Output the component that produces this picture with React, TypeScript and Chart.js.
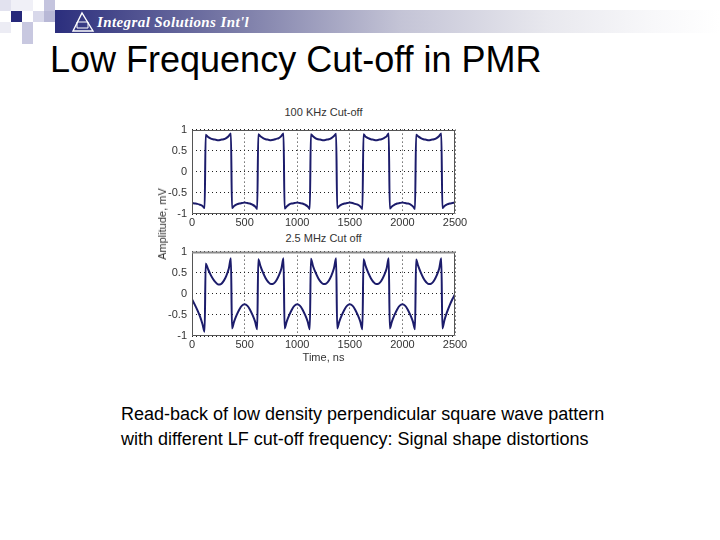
import React, { useEffect, useRef } from "react";
import { Chart, registerables } from "chart.js";
Chart.register(...registerables);

// ---- data ----
const timeNs = [
  0, 25, 50, 75, 100, 120,
  130, 150, 175, 200, 225, 250, 275, 300, 325, 350, 370,
  380, 400, 425, 450, 475, 500, 525, 550, 575, 600, 620,
  630, 650, 675, 700, 725, 750, 775, 800, 825, 850, 870,
  880, 900, 925, 950, 975, 1000, 1025, 1050, 1075, 1100, 1120,
  1130, 1150, 1175, 1200, 1225, 1250, 1275, 1300, 1325, 1350, 1370,
  1380, 1400, 1425, 1450, 1475, 1500, 1525, 1550, 1575, 1600, 1620,
  1630, 1650, 1675, 1700, 1725, 1750, 1775, 1800, 1825, 1850, 1870,
  1880, 1900, 1925, 1950, 1975, 2000, 2025, 2050, 2075, 2100, 2120,
  2130, 2150, 2175, 2200, 2225, 2250, 2275, 2300, 2325, 2350, 2370,
  2380, 2400, 2425, 2450, 2475, 2500,
];

const cutoff100kHz = [
  -0.74, -0.75, -0.76, -0.78, -0.81, -0.86,
  0.88, 0.83, 0.79, 0.77, 0.76, 0.75, 0.76, 0.77, 0.8, 0.85, 0.91,
  -0.86, -0.81, -0.77, -0.75, -0.74, -0.73, -0.74, -0.75, -0.78, -0.82, -0.88,
  0.89, 0.84, 0.8, 0.77, 0.76, 0.75, 0.76, 0.78, 0.8, 0.85, 0.91,
  -0.87, -0.82, -0.77, -0.75, -0.74, -0.73, -0.74, -0.75, -0.78, -0.82, -0.88,
  0.89, 0.84, 0.79, 0.77, 0.76, 0.75, 0.76, 0.77, 0.8, 0.85, 0.9,
  -0.86, -0.81, -0.77, -0.75, -0.74, -0.73, -0.74, -0.76, -0.78, -0.82, -0.88,
  0.89, 0.83, 0.8, 0.77, 0.76, 0.75, 0.76, 0.77, 0.8, 0.84, 0.91,
  -0.87, -0.82, -0.78, -0.75, -0.74, -0.73, -0.74, -0.75, -0.77, -0.82, -0.88,
  0.88, 0.84, 0.8, 0.77, 0.76, 0.75, 0.76, 0.77, 0.8, 0.85, 0.91,
  -0.86, -0.81, -0.77, -0.75, -0.74, -0.73,
];

const cutoff2_5MHz = [
  -0.13, -0.25, -0.38, -0.53, -0.72, -0.9,
  0.72, 0.6, 0.46, 0.35, 0.27, 0.22, 0.23, 0.3, 0.42, 0.6, 0.84,
  -0.82, -0.66, -0.5, -0.37, -0.28, -0.25, -0.28, -0.37, -0.5, -0.66, -0.84,
  0.82, 0.66, 0.5, 0.37, 0.28, 0.23, 0.24, 0.31, 0.43, 0.6, 0.84,
  -0.82, -0.66, -0.5, -0.37, -0.28, -0.25, -0.28, -0.37, -0.5, -0.66, -0.84,
  0.83, 0.66, 0.5, 0.37, 0.28, 0.23, 0.24, 0.31, 0.43, 0.61, 0.84,
  -0.82, -0.66, -0.5, -0.37, -0.28, -0.25, -0.28, -0.37, -0.5, -0.66, -0.84,
  0.82, 0.66, 0.5, 0.37, 0.28, 0.23, 0.24, 0.31, 0.43, 0.6, 0.84,
  -0.82, -0.66, -0.5, -0.37, -0.28, -0.25, -0.28, -0.37, -0.5, -0.66, -0.84,
  0.81, 0.66, 0.5, 0.37, 0.28, 0.23, 0.24, 0.31, 0.43, 0.6, 0.84,
  -0.82, -0.62, -0.43, -0.27, -0.13, -0.01,
];

const xTicks = [0, 500, 1000, 1500, 2000, 2500];
const xTickLabels = ["0", "500", "1000", "1500", "2000", "2500"];
const yTicks = [-1, -0.5, 0, 0.5, 1];
const yTickLabels = ["-1", "-0.5", "0", "0.5", "1"];

const topTitle = "100 KHz Cut-off";
const bottomTitle = "2.5 MHz Cut off";
const xTitle = "Time, ns";
const yTitle = "Amplitude, mV";
const slideTitle = "Low Frequency Cut-off in PMR";
const captionLines = [
  "Read-back of low density perpendicular square wave pattern",
  "with different LF cut-off frequency: Signal shape distortions",
];
const bannerText = "Integral Solutions Int'l";

const FONT = "'Liberation Sans', Arial, Helvetica, sans-serif";
const TXT = "#333";

const boxPlugin = {
  id: "matlabBox",
  afterDraw(chart: any, _args: any, opts: any) {
    const { ctx, chartArea: a } = chart;
    const l = Math.round(a.left) + 0.5;
    const r = Math.round(a.right) - 0.5;
    const t = Math.round(a.top) + 0.5;
    const b = Math.round(a.bottom) - 0.5;
    ctx.save();
    ctx.strokeStyle = "#555";
    ctx.lineWidth = 1;
    ctx.beginPath();
    ctx.moveTo(l, t);
    ctx.lineTo(l, b);
    ctx.lineTo(r, b);
    ctx.lineTo(r, t);
    ctx.stroke();
    ctx.strokeStyle = opts.topColor || "#555";
    ctx.lineWidth = opts.topWidth || 1;
    ctx.beginPath();
    ctx.moveTo(l - 0.5, t);
    ctx.lineTo(r + 0.5, t);
    ctx.stroke();
    ctx.restore();
  },
};

function Plot({ values, top, topColor, topWidth }: any) {
  const ref = useRef<HTMLCanvasElement>(null);
  useEffect(() => {
    const points = timeNs.map((t, i) => ({ x: t, y: values[i] }));
    const chart = new Chart(ref.current as HTMLCanvasElement, {
      type: "line",
      data: {
        datasets: [
          {
            data: points,
            borderColor: "#1c1c6b",
            borderWidth: 2,
            pointRadius: 0,
            cubicInterpolationMode: "monotone",
            fill: false,
          },
        ],
      },
      plugins: [boxPlugin],
      options: {
        animation: false,
        responsive: false,
        devicePixelRatio: 1,
        layout: { padding: { top: 9, right: 15, left: 0, bottom: 0 } },
        plugins: {
          legend: { display: false },
          tooltip: { enabled: false },
          matlabBox: { topColor, topWidth },
        } as any,
        scales: {
          x: {
            type: "linear",
            min: 0,
            max: 2500,
            afterBuildTicks: (s: any) => {
              s.ticks = xTicks.map((v) => ({ value: v }));
            },
            afterFit: (s: any) => {
              s.height = 16;
            },
            ticks: {
              autoSkip: false,
              maxRotation: 0,
              padding: 2,
              color: TXT,
              font: { family: FONT, size: 11 },
              callback: (_v: any, i: number) => xTickLabels[i],
            },
            grid: { color: "#222", lineWidth: 1, drawTicks: false },
            border: { display: false, dash: [1, 3] },
          },
          y: {
            type: "linear",
            min: -1,
            max: 1,
            afterBuildTicks: (s: any) => {
              s.ticks = yTicks.map((v) => ({ value: v }));
            },
            afterFit: (s: any) => {
              s.width = 42;
            },
            ticks: {
              autoSkip: false,
              padding: 5,
              color: TXT,
              font: { family: FONT, size: 11 },
              callback: (_v: any, i: number) => yTickLabels[i],
            },
            grid: { color: "#222", lineWidth: 1, drawTicks: false },
            border: { display: false, dash: [1, 3] },
          },
        },
      } as any,
    });
    return () => chart.destroy();
  }, [values, topColor, topWidth]);
  return (
    <canvas
      ref={ref}
      width={320}
      height={112}
      style={{ position: "absolute", left: 150, top, width: 320, height: 112 }}
    />
  );
}

const squares = [
  { x: 0, y: 0, c: "#e2e2ef" },
  { x: 11, y: 0, c: "#f0f0f7" },
  { x: 22, y: 0, c: "#f0f0f7" },
  { x: 44, y: 0, c: "#c4c4de" },
  { x: 11, y: 11, c: "#26287a" },
  { x: 33, y: 11, c: "#d8d8ea" },
  { x: 44, y: 11, c: "#b8b8d6" },
  { x: 0, y: 22, c: "#ececf4" },
  { x: 22, y: 22, c: "#c8c8e0" },
  { x: 22, y: 33, c: "#c8c8e0" },
];

export default function App() {
  return (
    <div
      style={{
        position: "absolute",
        left: 0,
        top: 0,
        width: 720,
        height: 540,
        background: "#fff",
        overflow: "hidden",
        fontFamily: FONT,
      }}
    >
      {squares.map((s, i) => (
        <div
          key={i}
          style={{ position: "absolute", left: s.x, top: s.y, width: 11, height: 11, background: s.c }}
        />
      ))}
      <div
        style={{
          position: "absolute",
          left: 55,
          top: 10,
          width: 665,
          height: 23,
          background:
            "linear-gradient(to right, #2b2e7d 0%, #4a4c8d 10%, #7d7ea9 28%, #c4c4d6 52%, #e8e8ee 74%, #f8f8fa 90%, #ffffff 100%)",
        }}
      />
      <svg style={{ position: "absolute", left: 71, top: 11 }} width={24} height={22}>
        <path d="M2 20 L11 2 L22 20 Z" fill="none" stroke="#fff" strokeWidth={1.4} />
        <path d="M6 11 L17 11 L17 17 L6 17 Z" fill="none" stroke="#fff" strokeWidth={1} />
      </svg>
      <div
        style={{
          position: "absolute",
          left: 97,
          top: 12,
          fontFamily: "'Liberation Serif', 'DejaVu Serif', serif",
          fontStyle: "italic",
          fontWeight: "bold",
          fontSize: 15,
          letterSpacing: "0.4px",
          lineHeight: "20px",
          color: "#fff",
          whiteSpace: "nowrap",
        }}
      >
        {bannerText}
      </div>
      <div
        style={{
          position: "absolute",
          left: 50,
          top: 40,
          fontSize: 36,
          lineHeight: "40px",
          color: "#000",
          whiteSpace: "nowrap",
        }}
      >
        {slideTitle}
      </div>

      <div
        style={{
          position: "absolute",
          left: 192,
          width: 263,
          top: 105,
          textAlign: "center",
          fontSize: 11,
          lineHeight: "14px",
          color: TXT,
          whiteSpace: "nowrap",
        }}
      >
        {topTitle}
      </div>
      <Plot values={cutoff100kHz} top={118} topColor="#555" topWidth={1} />
      <div
        style={{
          position: "absolute",
          left: 192,
          width: 263,
          top: 231,
          textAlign: "center",
          fontSize: 11,
          lineHeight: "14px",
          color: TXT,
          whiteSpace: "nowrap",
        }}
      >
        {bottomTitle}
      </div>
      <Plot values={cutoff2_5MHz} top={240} topColor="#8a8a8a" topWidth={2} />
      <div
        style={{
          position: "absolute",
          left: 192,
          width: 263,
          top: 350,
          textAlign: "center",
          fontSize: 11,
          lineHeight: "14px",
          color: TXT,
          whiteSpace: "nowrap",
        }}
      >
        {xTitle}
      </div>
      <div
        style={{
          position: "absolute",
          left: 162,
          top: 224,
          transform: "translate(-50%, -50%) rotate(-90deg)",
          fontSize: 11,
          lineHeight: "14px",
          color: TXT,
          whiteSpace: "nowrap",
        }}
      >
        {yTitle}
      </div>

      <div
        style={{
          position: "absolute",
          left: 121,
          top: 402,
          fontSize: 18,
          lineHeight: "25px",
          color: "#000",
          whiteSpace: "nowrap",
        }}
      >
        {captionLines.map((l, i) => (
          <div key={i}>{l}</div>
        ))}
      </div>
    </div>
  );
}
